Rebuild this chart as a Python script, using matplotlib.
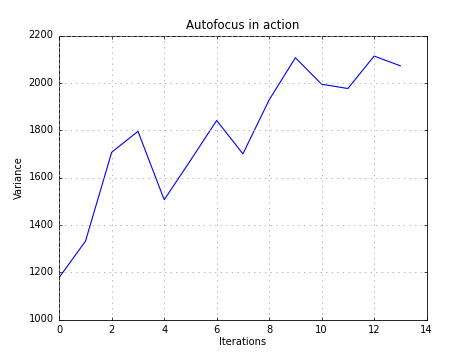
import numpy as np
import matplotlib
matplotlib.use('Agg')
import matplotlib.pyplot as plt

iterations = list(range(14))
variance = [1178, 1331, 1707, 1795, 1506, 1672, 1841, 1700, 1928, 2106, 1994, 1976, 2113, 2072]

plt.style.use('classic')
plt.rcParams['font.size'] = 7.1
plt.rcParams['lines.linewidth'] = 0.8

fig = plt.figure(figsize=(4.74, 3.55), dpi=100)
ax = fig.add_axes([0.125, 0.1, 0.775, 0.8])
ax.plot(iterations, variance, color='b')
ax.set_xlim(0, 14)
ax.set_ylim(1000, 2200)
ax.set_xticks(np.arange(0, 15, 2))
ax.set_yticks(np.arange(1000, 2201, 200))
ax.grid(True, color='#aaaaaa', linestyle=':', linewidth=0.6)
ax.tick_params(labelsize=7.1, length=2.5, width=0.5)
for s in ax.spines.values():
    s.set_linewidth(0.6)
ax.set_title('Autofocus in action', fontsize=8.5)
ax.set_xlabel('Iterations', fontsize=7.1, labelpad=1.5)
ax.set_ylabel('Variance', fontsize=7.1, labelpad=3)
fig.savefig('out.png', dpi=100)
